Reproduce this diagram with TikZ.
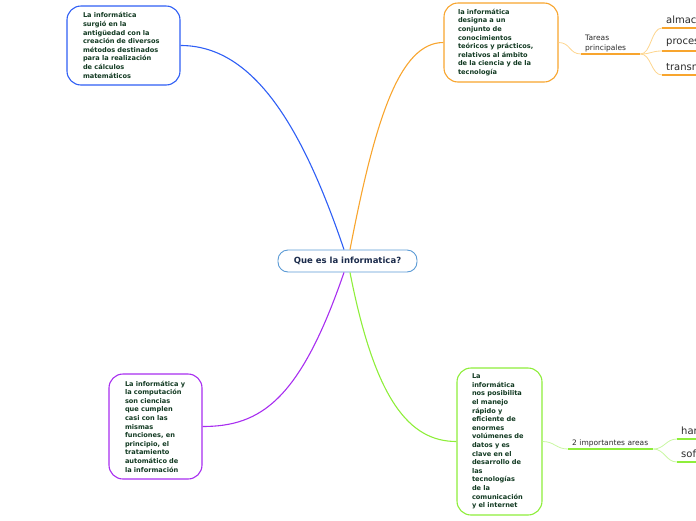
\documentclass[tikz,border=0pt]{standalone}
\usepackage{fontspec}
\setmainfont{DejaVu Sans}
\definecolor{blueC}{HTML}{2F5FF5}
\definecolor{orangeC}{HTML}{F8A52E}
\definecolor{orangeL}{HTML}{FDD58E}
\definecolor{purpleC}{HTML}{A82EF0}
\definecolor{greenC}{HTML}{8EEE3A}
\definecolor{greenL}{HTML}{C9F7A2}
\definecolor{txtC}{HTML}{123A22}
\definecolor{navyC}{HTML}{1B2B4B}
\definecolor{ctrB}{HTML}{5B9BD5}
\definecolor{leafT}{HTML}{2A2A2A}
\tikzset{
  topic/.style={draw=#1, line width=1.1pt, fill=white, rounded corners=14pt,
    align=left, text=txtC, inner ysep=0pt,
    font=\fontsize{6.6}{8.6}\selectfont\bfseries},
  branch/.style={draw=#1, line width=1.1pt},
  sub/.style={anchor=south west, align=left, inner ysep=2pt, text=leafT,
    font=\fontsize{7.5}{9.8}\selectfont},
  leaf/.style={anchor=south west, align=left, inner xsep=4pt, inner ysep=4pt,
    text width=40pt, text=leafT, font=\fontsize{10}{12}\selectfont},
  uline/.style={draw=#1, line width=2.2pt},
  thin/.style={draw=#1, line width=0.8pt}
}
\begin{document}
\begin{tikzpicture}[x=1pt,y=-1pt]
\useasboundingbox (0,0) rectangle (696,520);
\clip (0,0) rectangle (696,520);
% center
\node[draw=ctrB, line width=0.9pt, fill=white, rounded corners=10pt,
  minimum width=139pt, minimum height=22pt, inner sep=0pt, text=navyC,
  font=\fontsize{8.5}{10}\selectfont\bfseries] (c) at (347.5,261) {Que es la informatica?};
% topics
\node[topic=blueC, minimum width=113pt, minimum height=79pt, inner xsep=16pt, text width=81pt]
  (b) at (123.5,45.5) {La informática\\surgió en la\\antigüedad con la\\creación de diversos\\métodos destinados\\para la realización\\de cálculos\\matemáticos};
\node[topic=orangeC, minimum width=114pt, minimum height=79pt, inner xsep=14pt, text width=86pt]
  (o) at (501,42.5) {la informática\\designa a un\\conjunto de\\conocimientos\\teóricos y prácticos,\\relativos al ámbito\\de la ciencia y de la\\tecnología};
\node[topic=purpleC, minimum width=93pt, minimum height=105pt, inner xsep=16pt, text width=61pt]
  (p) at (155.5,426.5) {La informática y\\la computación\\son ciencias\\que cumplen\\casi con las\\mismas\\funciones, en\\principio, el\\tratamiento\\automático de\\la información};
\node[topic=greenC, minimum width=85pt, minimum height=147pt, inner xsep=15pt, text width=55pt]
  (g) at (499.5,441.5) {La\\informática\\nos posibilita\\el manejo\\rápido y\\eficiente de\\enormes\\volúmenes de\\datos y es\\clave en el\\desarrollo de\\las\\tecnologías\\de la\\comunicación\\y el internet};
% main branches
\draw[branch=blueC] ([xshift=-3.5pt]c.north) .. controls +(-44,-130) and +(70,0) .. (b.east);
\draw[branch=orangeC] ([xshift=2.5pt]c.north) .. controls +(25,-130) and +(-44,0) .. (o.west);
\draw[branch=purpleC] ([xshift=-3.5pt]c.south) .. controls +(-44,128) and +(58,0) .. (p.east);
\draw[branch=greenC] ([xshift=2.5pt]c.south) .. controls +(25,128) and +(-47,0) .. (g.west);
% orange subtopic
\node[sub, inner xsep=4pt, text width=51pt] (tp) at (581,54) {Tareas\\principales};
\draw[thin=orangeL] (o.east) .. controls +(12,0) and +(-12,0) .. (tp.south west);
\draw[uline=orangeC] (tp.south west) -- (tp.south east);
\node[leaf] (l1) at (662,28) {almac};
\node[leaf] (l2) at (662,51) {proces};
\node[leaf] (l3) at (662,75) {transm};
\foreach \n in {l1,l2,l3}{
  \draw[thin=orangeL] (tp.south east) .. controls +(11,0) and +(-11,0) .. (\n.south west);
  \draw[uline=orangeC] (\n.south west) -- (\n.south east);
}
% green subtopic
\node[sub, inner xsep=4pt, text width=77pt] (ia) at (568,449) {2 importantes areas};
\draw[thin=greenL] (g.east) .. controls +(12,0) and +(-12,0) .. (ia.south west);
\draw[uline=greenC] (ia.south west) -- (ia.south east);
\node[leaf] (h1) at (677,439) {har};
\node[leaf] (h2) at (677,462) {sof};
\foreach \n in {h1,h2}{
  \draw[thin=greenL] (ia.south east) .. controls +(11,0) and +(-11,0) .. (\n.south west);
  \draw[uline=greenC] (\n.south west) -- (\n.south east);
}
\end{tikzpicture}
\end{document}
